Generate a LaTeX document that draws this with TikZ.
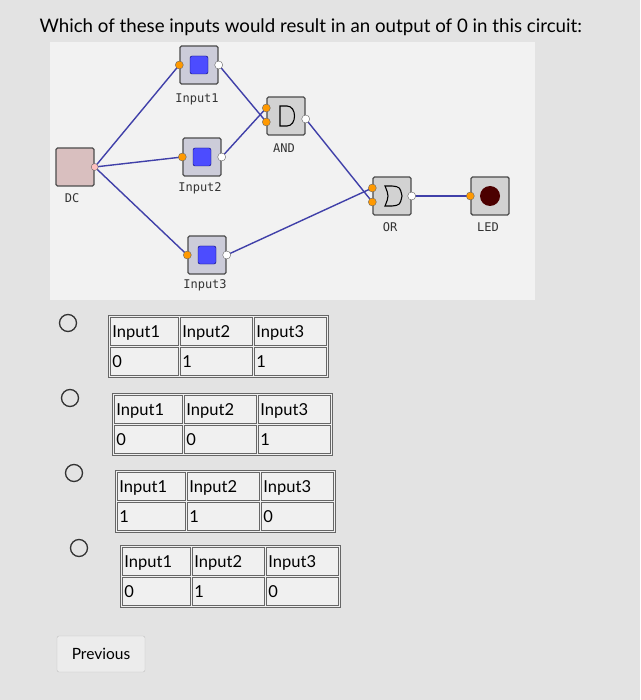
\documentclass[tikz,border=0pt]{standalone}
\usepackage{fontspec}
\setmainfont{Lato}
\newfontfamily\monof{DejaVu Sans Mono}
\begin{document}
\begin{tikzpicture}[x=1pt,y=-1pt,
 comp/.style={draw=black!70,line width=1.4pt,rounded corners=1.5pt,minimum size=38pt,inner sep=0pt},
 inp/.style={comp,fill=blue!15!gray!35},
 gate/.style={comp,fill=gray!35},
 lbl/.style={font=\monof\fontsize{12}{13}\selectfont,text=black!80},
 wire/.style={draw=blue!55!black!75,line width=1.4pt},
 pinin/.style={circle,fill=orange!80!yellow,draw=black!60,inner sep=0pt,minimum size=8pt},
 pinout/.style={circle,fill=white,draw=black!60,inner sep=0pt,minimum size=8pt},
 cell/.style={draw=black!60,line width=0.8pt,fill=gray!12,minimum height=28pt,anchor=north west,inner sep=2pt,text depth=0pt,align=left,font=\fontsize{16.5}{18}\selectfont},
 radio/.style={circle,draw=black!80,line width=1.3pt,minimum size=17pt,inner sep=0pt},
]
\fill[gray!22] (0,0) rectangle (640,700);
\useasboundingbox (0,0) rectangle (640,700);
\fill[gray!10] (50,42) rectangle (535,300);
\node[anchor=west,font=\fontsize{18.7}{21}\selectfont] (title) at (36,27) {Which of these inputs would result in an output of 0 in this circuit:};
% components
\node[comp,fill=red!25!gray!40] (dc) at (75,167) {};
\node[inp] (i1) at (199,65) {};
\node[inp] (i2) at (202,157) {};
\node[inp] (i3) at (207,255) {};
\node[gate] (and) at (286,116) {};
\node[gate] (or) at (392,196) {};
\node[gate] (led) at (490,196) {};
\foreach \n in {i1,i2,i3}{\fill[blue!70,draw=blue!40!black,rounded corners=2pt] ([shift={(-9,-9)}]\n.center) rectangle ([shift={(9,9)}]\n.center);}
\fill[red!30!black] (490,196) circle (10);
\draw[line width=1.1pt] ([shift={(-6,-10)}]and.center) -- ([shift={(1,-10)}]and.center) .. controls ([shift={(11,-10)}]and.center) and ([shift={(11,10)}]and.center) .. ([shift={(1,10)}]and.center) -- ([shift={(-6,10)}]and.center) -- cycle;
\draw[line width=1.1pt] ([shift={(-7,-10)}]or.center) -- ([shift={(0,-10)}]or.center) .. controls ([shift={(8,-9)}]or.center) .. ([shift={(10,0)}]or.center) .. controls ([shift={(8,9)}]or.center) .. ([shift={(0,10)}]or.center) -- ([shift={(-7,10)}]or.center) .. controls ([shift={(-3,0)}]or.center) .. cycle;
\node[lbl] (ldc) at (72,198) {DC};
\node[lbl] (li1) at (197,99) {Input1};
\node[lbl] (li2) at (200,188) {Input2};
\node[lbl] (li3) at (205,285) {Input3};
\node[lbl] (land) at (284,148) {AND};
\node[lbl] (lor) at (390,227) {OR};
\node[lbl] (lled) at (488,227) {LED};
% pins
\coordinate (dco) at (dc.east);
\coordinate (i1a) at (i1.west); \coordinate (i1b) at (i1.east);
\coordinate (i2a) at (i2.west); \coordinate (i2b) at (i2.east);
\coordinate (i3a) at (i3.west); \coordinate (i3b) at (i3.east);
\coordinate (anda) at ([yshift=-6]and.west); \coordinate (andb) at ([yshift=8]and.west); \coordinate (ando) at ([yshift=-3]and.east);
\coordinate (ora) at ([yshift=-6]or.west); \coordinate (orb) at ([yshift=8]or.west); \coordinate (oro) at (or.east);
\coordinate (leda) at (led.west);
\draw[wire] (dco) -- (i1a); \draw[wire] (dco) -- (i2a); \draw[wire] (dco) -- (i3a);
\draw[wire] (i1b) -- (anda); \draw[wire] (i2b) -- (andb);
\draw[wire] (ando) -- (ora); \draw[wire] (i3b) -- (orb);
\draw[wire] (oro) -- (leda);
\foreach \p in {i1a,i2a,i3a,anda,andb,ora,orb,leda}{\node[pinin] at (\p) {};}
\foreach \p in {i1b,i2b,i3b,ando,oro}{\node[pinout] at (\p) {};}
\node[circle,fill=pink,draw=black!60,inner sep=0pt,minimum size=7pt] at (dco) {};
% options
\foreach \k/\x/\y/\rx/\ry/\a/\b/\c in {1/108/315/68/323/0/1/1, 2/112/393/70/398/0/0/1, 3/115/470/74/473/1/1/0, 4/120/545/79/548/0/1/0}{
 \node[radio] (r\k) at (\rx,\ry) {};
 \draw[black!60,line width=0.8pt,fill=gray!12] (\x,\y) rectangle (\x+220,\y+62);
 \node[cell,text width=64pt] (h1\k) at (\x+2,\y+2) {Input1};
 \node[cell,text width=68pt] (h2\k) at (\x+72,\y+2) {Input2};
 \node[cell,text width=68pt] (h3\k) at (\x+146,\y+2) {Input3};
 \node[cell,text width=64pt] (v1\k) at (\x+2,\y+32) {\a};
 \node[cell,text width=68pt] (v2\k) at (\x+72,\y+32) {\b};
 \node[cell,text width=68pt] (v3\k) at (\x+146,\y+32) {\c};
}
\node[draw=black!25,fill=gray!15,rounded corners=2pt,minimum width=88pt,minimum height=36pt,font=\fontsize{15.5}{17}\selectfont] (prev) at (101,654) {Previous};
\end{tikzpicture}
\end{document}
